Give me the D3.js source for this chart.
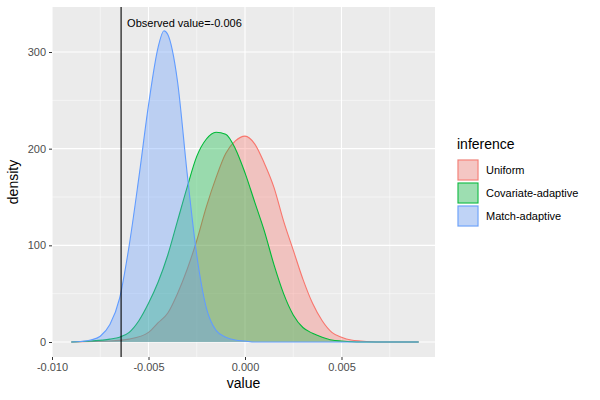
<!DOCTYPE html>
<html><head><meta charset="utf-8">
<script src="https://cdn.jsdelivr.net/npm/d3@7"></script>
<style>body{margin:0;background:#fff}text{font-family:"Liberation Sans",Arial,sans-serif}</style>
</head><body><svg id="c" width="600" height="400"></svg>
<script>
var seriesNames = ["Uniform", "Covariate-adaptive", "Match-adaptive"];
var colors = ["#F8766D", "#00BA38", "#619CFF"];
var uniformX = [-0.009,-0.007,-0.006,-0.005,-0.0045,-0.004,-0.0035,-0.003,-0.0025,-0.002,-0.0015,-0.001,-0.0005,0,0.0005,0.001,0.0015,0.002,0.0025,0.003,0.0035,0.004,0.0045,0.005,0.0055,0.006,0.007,0.009];
var uniformY = [0,1,3,10,20,30,50,75,105,140,170,195,208,213,205,185,160,125,95,65,40,22,10,5,2,1,0,0];
var covX = [-0.009,-0.008,-0.007,-0.0065,-0.006,-0.0055,-0.005,-0.0045,-0.004,-0.0035,-0.003,-0.0025,-0.002,-0.0015,-0.001,-0.0005,0,0.0005,0.001,0.0015,0.002,0.0025,0.003,0.0035,0.004,0.0045,0.005,0.006,0.009];
var covY = [0,1,3,5,10,22,40,62,90,125,160,192,210,217,215,200,175,145,115,80,50,28,15,9,5,2,1,0,0];
var matchX = [-0.009,-0.0085,-0.008,-0.0075,-0.007,-0.0065,-0.006,-0.0055,-0.005,-0.0045,-0.0042,-0.004,-0.0035,-0.003,-0.0025,-0.002,-0.0015,-0.001,-0.0005,0,0.0005,0.009];
var matchY = [0,0.5,2,6,18,45,100,170,245,305,322,318,270,175,90,35,12,5,2,1,0,0];
var observed = -0.00642;
var xTicks = [-0.010, -0.005, 0.000, 0.005];
var yTicks = [0, 100, 200, 300];

var svg = d3.select("#c");
var x = d3.scaleLinear().domain([-0.010, 0.005]).range([52, 341.5]);
var y = d3.scaleLinear().domain([0, 300]).range([342, 52]);
var L = 52, R = 435, T = 7, B = 357;

svg.append("rect").attr("x", L).attr("y", T).attr("width", R - L).attr("height", B - T).attr("fill", "#EBEBEB");
var minorX = d3.range(-0.0075, 0.0076, 0.005), minorY = [50, 150, 250];
svg.selectAll(".mx").data(minorX).enter().append("line").attr("x1", d => x(d)).attr("x2", d => x(d)).attr("y1", T).attr("y2", B).attr("stroke", "#fff").attr("stroke-width", 0.5);
svg.selectAll(".my").data(minorY).enter().append("line").attr("y1", d => y(d)).attr("y2", d => y(d)).attr("x1", L).attr("x2", R).attr("stroke", "#fff").attr("stroke-width", 0.5);
svg.selectAll(".gx").data(xTicks).enter().append("line").attr("x1", d => x(d)).attr("x2", d => x(d)).attr("y1", T).attr("y2", B).attr("stroke", "#fff").attr("stroke-width", 1.1);
svg.selectAll(".gy").data(yTicks).enter().append("line").attr("y1", d => y(d)).attr("y2", d => y(d)).attr("x1", L).attr("x2", R).attr("stroke", "#fff").attr("stroke-width", 1.1);

var series = [[uniformX, uniformY], [covX, covY], [matchX, matchY]];
var area = d3.area().x(d => x(d[0])).y0(y(0)).y1(d => y(d[1])).curve(d3.curveMonotoneX);
var line = d3.line().x(d => x(d[0])).y(d => y(d[1])).curve(d3.curveMonotoneX);
series.forEach(function(s, i) {
  var pts = s[0].map((v, j) => [v, s[1][j]]);
  svg.append("path").attr("d", area(pts)).attr("fill", colors[i]).attr("fill-opacity", 0.35);
  svg.append("path").attr("d", line(pts)).attr("fill", "none").attr("stroke", colors[i]).attr("stroke-width", 1.1);
});

svg.append("line").attr("x1", x(observed)).attr("x2", x(observed)).attr("y1", T).attr("y2", B).attr("stroke", "#000").attr("stroke-width", 1.1);
svg.append("text").attr("x", x(observed) + 6).attr("y", 27).attr("font-size", 11).text("Observed value=-0.006");

var ax = svg.append("g").attr("transform", "translate(0," + B + ")")
  .call(d3.axisBottom(x).tickValues(xTicks).tickSize(3).tickPadding(3).tickFormat(d3.format(".3f")));
var ay = svg.append("g").attr("transform", "translate(" + L + ",0)")
  .call(d3.axisLeft(y).tickValues(yTicks).tickSize(3).tickPadding(3));
[ax, ay].forEach(function(a) {
  a.select(".domain").remove();
  a.selectAll("line").attr("stroke", "#333");
  a.selectAll("text").attr("fill", "#4D4D4D").attr("font-size", 11).attr("font-family", "Liberation Sans,Arial,sans-serif");
});
ax.selectAll("text").text(d => d3.format(".3f")(d).replace("−", "-"));

svg.append("text").attr("x", (L + R) / 2).attr("y", 388).attr("text-anchor", "middle").attr("font-size", 14).text("value");
svg.append("text").attr("transform", "translate(18," + (T + B) / 2 + ") rotate(-90)").attr("text-anchor", "middle").attr("font-size", 14).text("density");

var lg = svg.append("g").attr("transform", "translate(457,0)");
lg.append("text").attr("x", 0).attr("y", 149).attr("font-size", 14).text("inference");
seriesNames.forEach(function(n, i) {
  var yy = 159 + i * 23;
  lg.append("rect").attr("x", 0).attr("y", yy).attr("width", 22).attr("height", 22).attr("fill", "#F2F2F2");
  lg.append("rect").attr("x", 1).attr("y", yy + 1).attr("width", 20).attr("height", 20).attr("fill", colors[i]).attr("fill-opacity", 0.35).attr("stroke", colors[i]).attr("stroke-width", 1);
  lg.append("text").attr("x", 29).attr("y", yy + 15).attr("font-size", 11).text(n);
});
</script></body></html>
